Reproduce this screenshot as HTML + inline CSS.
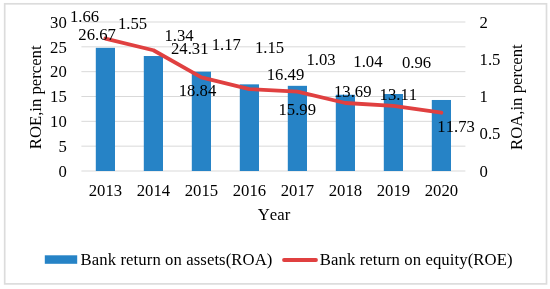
<!DOCTYPE html>
<html><head><meta charset="utf-8"><title>Chart</title>
<style>html,body{margin:0;padding:0;background:#fff;}svg{display:block;}</style></head>
<body>
<svg width="550" height="289" viewBox="0 0 550 289">
<rect x="0" y="0" width="550" height="289" fill="#fff"/>
<rect x="4.7" y="3.8" width="541.8" height="280.1" fill="#fff" stroke="#dcdcdc" stroke-width="1.7"/>
<line x1="81.4" x2="465.4" y1="171.00" y2="171.00" stroke="#d9d9d9" stroke-width="1"/>
<line x1="81.4" x2="465.4" y1="146.17" y2="146.17" stroke="#d9d9d9" stroke-width="1"/>
<line x1="81.4" x2="465.4" y1="121.33" y2="121.33" stroke="#d9d9d9" stroke-width="1"/>
<line x1="81.4" x2="465.4" y1="96.50" y2="96.50" stroke="#d9d9d9" stroke-width="1"/>
<line x1="81.4" x2="465.4" y1="71.67" y2="71.67" stroke="#d9d9d9" stroke-width="1"/>
<line x1="81.4" x2="465.4" y1="46.83" y2="46.83" stroke="#d9d9d9" stroke-width="1"/>
<line x1="81.4" x2="465.4" y1="22.00" y2="22.00" stroke="#d9d9d9" stroke-width="1"/>
<rect x="95.80" y="47.83" width="19.2" height="123.17" fill="#2683c6"/>
<rect x="143.80" y="56.02" width="19.2" height="114.98" fill="#2683c6"/>
<rect x="191.80" y="71.67" width="19.2" height="99.33" fill="#2683c6"/>
<rect x="239.80" y="84.34" width="19.2" height="86.66" fill="#2683c6"/>
<rect x="287.80" y="85.83" width="19.2" height="85.17" fill="#2683c6"/>
<rect x="335.80" y="94.77" width="19.2" height="76.23" fill="#2683c6"/>
<rect x="383.80" y="94.02" width="19.2" height="76.98" fill="#2683c6"/>
<rect x="431.80" y="99.98" width="19.2" height="71.02" fill="#2683c6"/>
<path d="M105.40,38.54 L153.40,50.26 L201.40,77.43 L249.40,89.10 L297.40,91.58 L345.40,103.01 L393.40,105.89 L441.40,112.74" fill="none" stroke="#e04040" stroke-width="3.8" stroke-linecap="round" stroke-linejoin="round"/>
<g font-family="'Liberation Serif', 'Times New Roman', serif" font-size="16.7" fill="#000" style="font-kerning:none">
<text x="66.8" y="176.70" text-anchor="end">0</text>
<text x="66.8" y="151.87" text-anchor="end">5</text>
<text x="66.8" y="127.03" text-anchor="end">10</text>
<text x="66.8" y="102.20" text-anchor="end">15</text>
<text x="66.8" y="77.37" text-anchor="end">20</text>
<text x="66.8" y="52.53" text-anchor="end">25</text>
<text x="66.8" y="27.70" text-anchor="end">30</text>
<text x="479.6" y="176.70">0</text>
<text x="479.6" y="139.45">0.5</text>
<text x="479.6" y="102.20">1</text>
<text x="479.6" y="64.95">1.5</text>
<text x="479.6" y="27.70">2</text>
<text x="105.40" y="196.1" text-anchor="middle">2013</text>
<text x="153.40" y="196.1" text-anchor="middle">2014</text>
<text x="201.40" y="196.1" text-anchor="middle">2015</text>
<text x="249.40" y="196.1" text-anchor="middle">2016</text>
<text x="297.40" y="196.1" text-anchor="middle">2017</text>
<text x="345.40" y="196.1" text-anchor="middle">2018</text>
<text x="393.40" y="196.1" text-anchor="middle">2019</text>
<text x="441.40" y="196.1" text-anchor="middle">2020</text>
<text x="274" y="220" text-anchor="middle">Year</text>
<text transform="translate(41,97.3) rotate(-90)" text-anchor="middle">ROE,in percent</text>
<text transform="translate(521.9,97.1) rotate(-90)" text-anchor="middle">ROA,in percent</text>
<text x="70" y="21.6">1.66</text>
<text x="118" y="29">1.55</text>
<text x="164.5" y="40.7">1.34</text>
<text x="211.7" y="49.7">1.17</text>
<text x="255" y="52.8">1.15</text>
<text x="306.5" y="64.5">1.03</text>
<text x="353.3" y="66.8">1.04</text>
<text x="402" y="67.7">0.96</text>
<text x="78.3" y="39.8">26.67</text>
<text x="171" y="53.8">24.31</text>
<text x="178.7" y="95.5">18.84</text>
<text x="266.7" y="80.3">16.49</text>
<text x="278.5" y="114.5">15.99</text>
<text x="334" y="96.5">13.69</text>
<text x="379.6" y="100">13.11</text>
<text x="437.3" y="131.5">11.73</text>
<text x="80.6" y="264.7" letter-spacing="0.09">Bank return on assets(ROA)</text>
<text x="319.8" y="264.7" letter-spacing="0.09">Bank return on equity(ROE)</text>
</g>
<rect x="44.8" y="255.3" width="32.4" height="8.5" fill="#2683c6"/>
<line x1="284" x2="316" y1="260" y2="260" stroke="#e04040" stroke-width="3.8" stroke-linecap="round"/>
</svg>
</body></html>
